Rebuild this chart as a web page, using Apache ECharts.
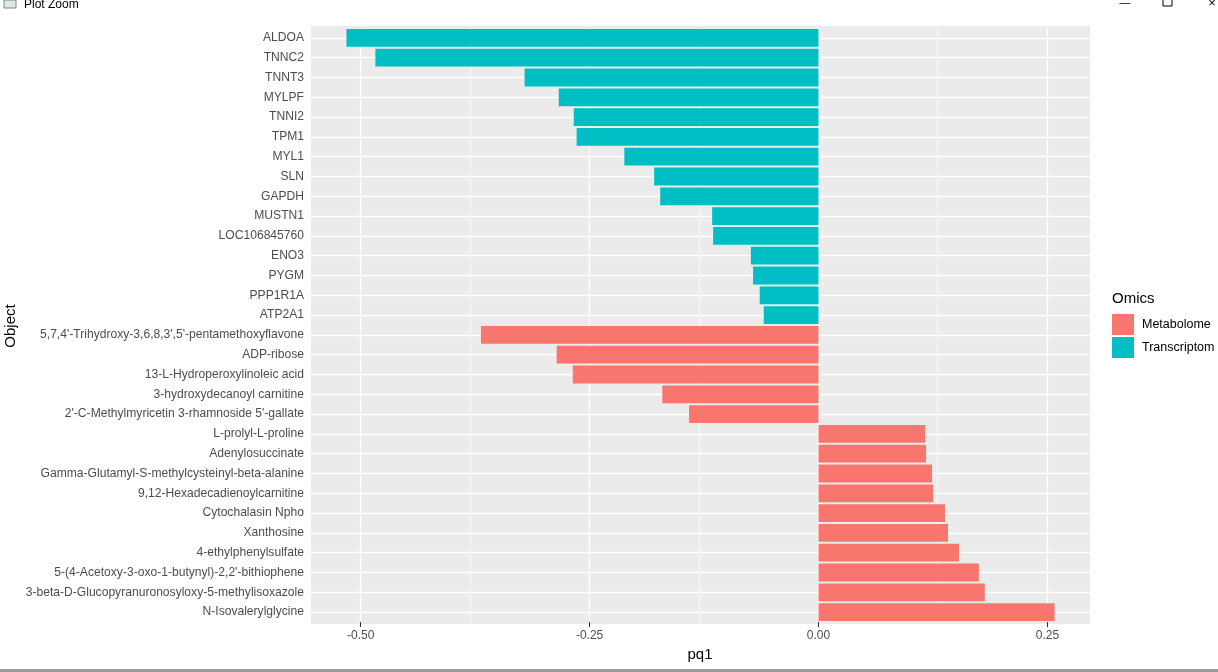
<!DOCTYPE html>
<html>
<head>
<meta charset="utf-8">
<script src="https://cdn.jsdelivr.net/npm/echarts@6/dist/echarts.min.js"></script>
<style>
html,body{margin:0;padding:0;background:#fff;}
#c{width:1218px;height:672px;}
</style>
</head>
<body>
<div id="c"></div>
<script>
// ---- data ----
var categories = [
  "ALDOA","TNNC2","TNNT3","MYLPF","TNNI2","TPM1","MYL1","SLN","GAPDH","MUSTN1",
  "LOC106845760","ENO3","PYGM","PPP1R1A","ATP2A1",
  "5,7,4'-Trihydroxy-3,6,8,3',5'-pentamethoxyflavone","ADP-ribose",
  "13-L-Hydroperoxylinoleic acid","3-hydroxydecanoyl carnitine",
  "2'-C-Methylmyricetin 3-rhamnoside 5'-gallate","L-prolyl-L-proline",
  "Adenylosuccinate","Gamma-Glutamyl-S-methylcysteinyl-beta-alanine",
  "9,12-Hexadecadienoylcarnitine","Cytochalasin Npho","Xanthosine",
  "4-ethylphenylsulfate","5-(4-Acetoxy-3-oxo-1-butynyl)-2,2'-bithiophene",
  "3-beta-D-Glucopyranuronosyloxy-5-methylisoxazole","N-Isovalerylglycine"
];
var omics = [
  "Transcriptom","Transcriptom","Transcriptom","Transcriptom","Transcriptom",
  "Transcriptom","Transcriptom","Transcriptom","Transcriptom","Transcriptom",
  "Transcriptom","Transcriptom","Transcriptom","Transcriptom","Transcriptom",
  "Metabolome","Metabolome","Metabolome","Metabolome","Metabolome",
  "Metabolome","Metabolome","Metabolome","Metabolome","Metabolome",
  "Metabolome","Metabolome","Metabolome","Metabolome","Metabolome"
];
var pq1 = [
  -0.5156,-0.4840,-0.3210,-0.2837,-0.2673,-0.2642,-0.2121,-0.1795,-0.1729,-0.1162,
  -0.1151,-0.0739,-0.0715,-0.0642,-0.0598,
  -0.3687,-0.2860,-0.2684,-0.1706,-0.1414,
  0.1164,0.1175,0.1240,0.1251,0.1381,0.1414,0.1534,0.1751,0.1816,0.2578
];
var groups = ["Metabolome","Transcriptom"];
var groupColors = ["#F8766D","#00BFC4"];
var majorTicks = [-0.50,-0.25,0.00,0.25];
var minorTicks = [-0.375,-0.125,0.125];
var xRange = [-0.5543,0.2965];

// ---- build ----
function seriesFor(g){
  return pq1.map(function(v,i){ return omics[i]===g ? v : '-'; });
}
var gridLines = [];
majorTicks.forEach(function(v){ gridLines.push({xAxis:v, lineStyle:{width:1.4}}); });
minorTicks.forEach(function(v){ gridLines.push({xAxis:v, lineStyle:{width:0.7}}); });
categories.forEach(function(c){ gridLines.push({yAxis:c, lineStyle:{width:1.4}}); });

var chart = echarts.init(document.getElementById('c'), null, {renderer:'canvas'});
var FONT = 'Liberation Sans, Arial, sans-serif';
var series = [{
  name:'grid', type:'line', data:[], z:1, zlevel:0, silent:true,
  markLine:{
    silent:true, symbol:'none', animation:false, z:1,
    label:{show:false},
    lineStyle:{color:'#ffffff', type:'solid'},
    data: gridLines
  }
}];
groups.forEach(function(g,k){
  series.push({
    name:g, type:'bar', data:seriesFor(g), z:10,
    barWidth:'90%', barGap:'-100%',
    itemStyle:{color:groupColors[k]}
  });
});

chart.setOption({
  animation:false,
  textStyle:{fontFamily:FONT},
  grid:{left:311, right:128, top:28, bottom:50, show:false, containLabel:false},
  xAxis:{
    type:'value', min:xRange[0], max:xRange[1],
    axisLine:{show:false},
    splitLine:{show:false},
    axisTick:{show:true, length:5, customValues:majorTicks,
              lineStyle:{color:'#333333', width:1}},
    axisLabel:{show:true, customValues:majorTicks, color:'#4D4D4D',
               fontSize:12, margin:8, fontFamily:FONT,
               formatter:function(v){ return v.toFixed(2); }}
  },
  yAxis:{
    type:'category', data:categories, inverse:true,
    axisLine:{show:false},
    splitLine:{show:false},
    axisTick:{show:true, length:4, alignWithLabel:true,
              lineStyle:{color:'#333333', width:1}},
    axisLabel:{color:'#4D4D4D', fontSize:12.1, margin:7, fontFamily:FONT, interval:0}
  },
  legend:{
    data:groups, orient:'vertical', left:1112, top:314,
    itemWidth:22, itemHeight:21, itemGap:2, icon:'rect', padding:0,
    textStyle:{color:'#000', fontSize:12.5, fontFamily:FONT, padding:[2,0,0,3]},
    selectedMode:false
  },
  graphic:[
    {type:'rect', z:-10, silent:true, shape:{x:311, y:26, width:779, height:598}, style:{fill:'#EBEBEB'}},
    {type:'text', left:1112, top:291, style:{text:'Omics', fontSize:15, fill:'#000', fontFamily:FONT}},
    {type:'text', x:700, y:655, style:{text:'pq1', fontSize:15, fill:'#000', fontFamily:FONT, align:'center', verticalAlign:'middle'}},
    {type:'text', x:11, y:326, rotation:Math.PI/2, style:{text:'Object', fontSize:15, fill:'#000', fontFamily:FONT, align:'center', verticalAlign:'middle'}},
    {type:'text', x:24, y:5, style:{text:'Plot Zoom', fontSize:12, fill:'#000', fontFamily:FONT, verticalAlign:'middle'}},
    {type:'rect', shape:{x:4, y:0, width:12, height:8}, style:{fill:'#dfe6e6', stroke:'#7a8a8a', lineWidth:1}},
    {type:'text', x:1125, y:3, style:{text:'—', fontSize:11, fill:'#000', fontFamily:FONT, align:'center', verticalAlign:'middle'}},
    {type:'rect', shape:{x:1163, y:-2, width:9, height:8}, style:{fill:'none', stroke:'#000', lineWidth:1}},
    {type:'text', x:1212, y:3, style:{text:'×', fontSize:13, fill:'#000', fontFamily:FONT, align:'center', verticalAlign:'middle'}},
    {type:'rect', shape:{x:0, y:669, width:1218, height:3}, style:{fill:'#9a9a9a'}}
  ],
  series:series
});
</script>
</body>
</html>
